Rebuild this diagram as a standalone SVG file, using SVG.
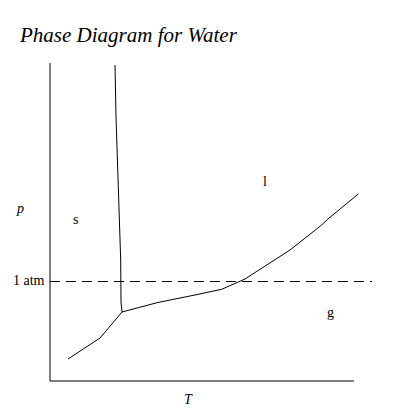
<svg xmlns="http://www.w3.org/2000/svg" width="399" height="417" viewBox="0 0 399 417">
<style>
.t{font-family:"Liberation Serif","Times New Roman",serif;fill:#000;font-size:14px}
.i{font-style:italic}
.ln{fill:none;stroke:#000;stroke-width:1}
</style>
<rect width="399" height="417" fill="#fff"/>
<text class="t i" x="20" y="42" style="font-size:21px">Phase Diagram for Water</text>
<g id="axes">
<polyline class="ln" points="50,63 50,381 354,381"/>
</g>
<g id="labels">
<text class="t i" x="17" y="213">p</text>
<text class="t" x="73" y="224">s</text>
<text class="t" x="263" y="186">l</text>
<text class="t" x="327" y="317">g</text>
<text class="t i" x="184" y="404">T</text>
<text class="t" x="13" y="285">1 atm</text>
</g>
<g id="connectors">
<line x1="50" y1="281.5" x2="372" y2="281.5" stroke="#000" stroke-width="1" stroke-dasharray="10,6"/>
<polyline class="ln" points="115,65 116,117 120.7,260 121,302 122,312"/>
<polyline class="ln" points="122,312 100,338 68,359"/>
<polyline class="ln" points="122,312 157,302.7 190,296 221.7,289.3 245,279 290,250 321.7,225 326.7,220 358.3,194"/>
</g>
</svg>
